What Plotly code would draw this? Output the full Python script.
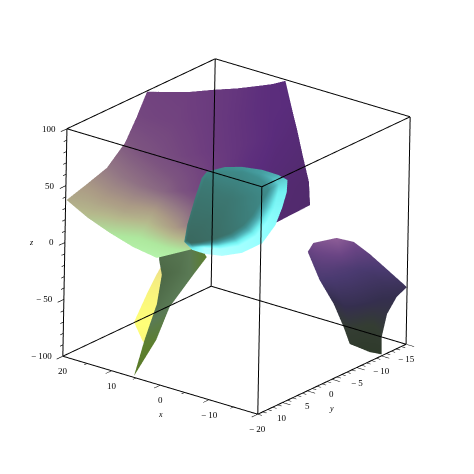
import plotly.graph_objects as go

# ---- axis ticks ----
x_major = [-20, -10, 0, 10, 20]
x_major_labels = ["− 20", "− 10", "0", "10", "20"]
x_minor = [-15, -5, 5, 15]
y_major = [-15, -10, -5, 0, 5, 10]
y_major_labels = ["− 15", "− 10", "− 5", "0", "5", "10"]
y_minor = [v for v in range(-15, 16) if v not in y_major]
z_major = [-100, -50, 0, 50, 100]
z_major_labels = ["− 100", "− 50", "0", "50", "100"]
z_minor = [v for v in range(-100, 101, 10) if v not in z_major]

# ---- large sheet ----
sheet_x = [[19.8, 17.5, 14.4, 12.0, 9.4, 7.4, 6.1, 5.3],
           [20.0, 17.6, 14.3, 11.5, 8.8, 6.4, 5.2, 4.35],
           [20.0, 17.3, 13.9, 10.7, 8.0, 5.6, 4.5, 3.0],
           [20.0, 16.8, 13.0, 9.7, 6.5, 4.0, 3.3, 1.7],
           [20.0, 16.6, 12.2, 7.6, 5.0, 2.3, 1.7, 0.4],
           [19.9, 15.4, 10.9, 6.1, 1.2, 1.5, -0.1, 0.1]]
sheet_y = [[-1.0, -2.4, -4.3, -6.7, -8.9, -11.2, -12.8, -14.7],
           [0.8, 0.1, -1.3, -3.6, -6.4, -9.7, -12.0, -15.0],
           [3.1, 3.2, 2.1, 0.1, -3.9, -8.5, -12.0, -15.0],
           [6.7, 6.9, 6.5, 5.4, 2.1, -4.5, -11.0, -15.0],
           [11.2, 10.9, 10.7, 10.5, 7.6, -0.5, -8.4, -15.0],
           [14.9, 15.0, 15.0, 15.0, 15.0, 4.9, -5.8, -15.0]]
sheet_z = [[100, 100, 100, 100, 100, 100, 100, 100],
           [81.4, 82.1, 81.7, 81.3, 80.9, 80.6, 80.1, 79.3],
           [63.3, 60.6, 60.1, 57.4, 58.0, 58.6, 59.0, 59.1],
           [48.7, 45.1, 42.3, 38.0, 37.0, 37.0, 36.2, 37.0],
           [42.0, 33.4, 29.0, 24.7, 16.8, 12.4, 17.1, 16.6],
           [37.3, 27.5, 20.1, 13.8, 10.4, -0.2, -4.3, -3.3]]
sheet_tone = [[.27, .26, .25, .22, .19, .15, .13, .12],
              [.29, .28, .27, .24, .20, .15, .13, .12],
              [.36, .35, .32, .28, .22, .16, .12, .10],
              [.45, .44, .42, .40, .30, .15, .10, .08],
              [.55, .56, .58, .65, .55, .20, .08, .06],
              [.60, .68, .78, .88, .95, .70, .08, .05]]

# ---- dark green spike ----
spike_x = [[6.1, 3.3, 1.0], [5.8, 2.8, -0.3], [4.9, 3.0, 0.8], [4.4, 3.6, 2.6], [4.6, 3.9, 3.1], [5.7, 5.7, 5.7]]
spike_y = [[9.6, 7.6, 6.4], [9.9, 8.1, 6.3], [10.2, 9.0, 7.9], [11.6, 11.2, 10.8], [13.8, 13.4, 12.9], [14.7, 14.7, 14.7]]
spike_z = [[-1.6, 3.3, 3.4], [-7.7, -5.9, -4.8], [-19.0, -16.6, -18.6], [-41.1, -41.8, -43.2], [-68.6, -68.5, -68.4], [-99.7, -99.7, -99.7]]
spike_tone = [[.25, .4, .7], [.25, .4, .75], [.15, .3, .55], [.3, .4, .5], [.7, .7, .7], [1, 1, 1]]

# ---- yellow piece ----
yellow_x = [[8.5, 8.2], [8.9, 7.8], [9.4, 7.5], [10.0, 7.4], [8.1, 7.7]]
yellow_y = [[6.4, 6.2], [7.2, 6.6], [8.7, 7.9], [10.6, 9.3], [10.6, 10.4]]
yellow_z = [[-21.0, -21.0], [-29.4, -30.1], [-44.8, -49.3], [-66.3, -68.3], [-81.2, -81.2]]
yellow_tone = [[0, 0], [.25, .3], [.65, .7], [1, 1], [.8, .8]]

# ---- teal bowl, rings from the middle out ----
bowl_mid = [-4.2, 6.0, 49.7]
bowl_c_x = [-2.7, -4.9, -7.2, -8.5, -9.0, -8.7, -8.3, -7.9, -7.1, -5.7, -3.8, -2.1, -0.9, -0.4, -0.3, -0.2, -0.3, -0.8]
bowl_c_y = [5.2, 4.0, 3.0, 2.6, 2.7, 3.2, 4.0, 4.8, 5.8, 7.0, 8.4, 9.6, 10.3, 10.5, 9.6, 8.2, 7.0, 6.5]
bowl_c_z = [71.0, 71.2, 66.9, 62.4, 57.9, 52.5, 46.4, 38.7, 31.0, 24.8, 20.0, 17.5, 16.7, 18.9, 30.3, 50.9, 65.4, 68.5]
bowl_b_x = [-2.6, -4.8, -7.4, -9.0, -10.2, -10.4, -10.5, -10.1, -9.2, -7.4, -5.1, -3.0, -1.4, -0.3, 0.0, 0.0, -0.2, -0.5]
bowl_b_y = [5.2, 3.9, 2.6, 2.0, 1.7, 2.1, 2.9, 3.9, 5.2, 6.8, 8.3, 9.4, 10.3, 10.6, 9.8, 8.2, 7.0, 6.5]
bowl_b_z = [72.5, 72.7, 69.9, 67.1, 62.6, 55.0, 44.3, 33.6, 22.8, 15.0, 12.5, 13.1, 13.7, 18.1, 30.3, 50.9, 66.2, 70.0]
bowl_o_x = [-2.5, -4.7, -7.4, -9.7, -11.1, -11.5, -11.5, -11.3, -10.3, -8.0, -5.5, -3.2, -1.4, -0.05, 0.2, 0.2, 0.1, -0.3]
bowl_o_y = [5.1, 3.8, 2.4, 1.4, 0.9, 1.4, 2.3, 3.4, 5.0, 6.8, 8.4, 9.6, 10.4, 10.7, 9.9, 8.4, 7.2, 6.6]
bowl_o_z = [74.8, 75.0, 73.0, 69.4, 65.7, 56.6, 44.4, 31.4, 17.6, 9.8, 7.2, 8.5, 11.4, 17.3, 30.3, 50.9, 66.1, 70.8]
bowl_mid_tone = .17
bowl_c_tone = [.30, .32, .35, .35, .33, .30, .28, .25, .22, .15, .08, .05, .03, .03, .08, .15, .22, .26]
bowl_b_tone = [.33, .36, .42, .52, .62, .72, .78, .85, .88, .92, .95, .95, .60, .10, .10, .18, .25, .28]
bowl_o_tone = [.35, .38, .42, .50, .62, .72, .78, .82, .87, .92, .97, 1.0, .80, .35, .15, .20, .27, .30]

# ---- patch at the right ----
patch_x = [[-5.7, -6.1, -8.9, -11.3, -13.85, -16.6, -19.95],
           [-8.3, -9.3, -11.1, -13.2, -15.2, -17.0, -19.0],
           [-11.1, -12.65, -13.8, -15.1, -16.2, -17.3, -18.4],
           [-13.3, -14.4, -15.4, -16.3, -17.1, -18.0, -18.6],
           [-14.7, -15.9, -16.9, -18.0, -18.8, -19.4, -19.65]]
patch_y = [[-8.9, -9.6, -11.5, -12.65, -13.4, -14.15, -15.0],
           [-8.8, -9.8, -11.1, -12.1, -13.0, -13.4, -13.9],
           [-9.0, -9.7, -10.5, -11.4, -12.0, -12.4, -12.6],
           [-8.9, -9.45, -10.1, -10.8, -11.2, -11.4, -11.4],
           [-8.8, -9.25, -9.7, -9.6, -10.0, -10.3, -10.4]]
patch_z = [[-24.5, -17.6, -13.5, -16.3, -25.2, -36.4, -49.8],
           [-45.6, -39.4, -36.2, -37.5, -41.1, -48.6, -57.5],
           [-63.7, -65.8, -63.4, -61.7, -61.6, -64.6, -70.6],
           [-81.0, -82.4, -80.8, -79.1, -79.1, -82.8, -88.0],
           [-93.8, -96.0, -98.2, -98.4, -99.1, -99.8, -99.8]]
patch_tone = [[.75, .88, 1.0, .85, .72, .60, .45],
              [.60, .65, .65, .60, .55, .48, .40],
              [.35, .40, .42, .42, .40, .36, .32],
              [.20, .20, .20, .20, .20, .20, .20],
              [.15, .08, .05, .05, .05, .05, .05]]

# ---- colour ramps ----
sheet_scale = [[0, "#4a2860"], [.12, "#5a2c7c"], [.25, "#6f3f7f"], [.35, "#7d5580"],
               [.45, "#957a85"], [.55, "#ab9b85"], [.65, "#b5b88c"], [.8, "#aee89e"], [1, "#b8f8b0"]]
spike_scale = [[0, "#46603f"], [.5, "#5a7a55"], [.75, "#5c7f2e"], [1, "#5a7a28"]]
yellow_scale = [[0, "#e8d68e"], [.4, "#f5ee80"], [1, "#ffff78"]]
bowl_scale = [[0, "#3a665c"], [.2, "#3c7a75"], [.35, "#3f8f8f"], [.5, "#4fb0b5"],
              [.7, "#70f0f0"], [.85, "#90ffff"], [1, "#b8ffff"]]
patch_scale = [[0, "#2d3a28"], [.2, "#343d33"], [.4, "#352f4f"], [.6, "#4a3a70"],
               [.8, "#6b4585"], [1, "#8f5f98"]]


def closed(ring):
    return list(ring) + [ring[0]]


n = len(bowl_c_x) + 1
bowl_x = [[bowl_mid[0]] * n, closed(bowl_c_x), closed(bowl_b_x), closed(bowl_o_x)]
bowl_y = [[bowl_mid[1]] * n, closed(bowl_c_y), closed(bowl_b_y), closed(bowl_o_y)]
bowl_z = [[bowl_mid[2]] * n, closed(bowl_c_z), closed(bowl_b_z), closed(bowl_o_z)]
bowl_tone = [[bowl_mid_tone] * n, closed(bowl_c_tone), closed(bowl_b_tone), closed(bowl_o_tone)]

flat = dict(ambient=1, diffuse=0, specular=0, fresnel=0, roughness=1)


def surf(x, y, z, tone, scale):
    return go.Surface(x=x, y=y, z=z, surfacecolor=tone, colorscale=scale, cmin=0, cmax=1,
                      showscale=False, lighting=flat, hoverinfo="skip", scene="scene")


x0, x1 = -20, 20
y0, y1 = -15, 15
z0, z1 = -100, 100
box_x, box_y, box_z = [], [], []
for a, b in [((x0, y0, z0), (x1, y0, z0)), ((x0, y1, z0), (x1, y1, z0)),
             ((x0, y0, z1), (x1, y0, z1)), ((x0, y1, z1), (x1, y1, z1)),
             ((x0, y0, z0), (x0, y1, z0)), ((x1, y0, z0), (x1, y1, z0)),
             ((x0, y0, z1), (x0, y1, z1)), ((x1, y0, z1), (x1, y1, z1)),
             ((x0, y0, z0), (x0, y0, z1)), ((x1, y0, z0), (x1, y0, z1)),
             ((x0, y1, z0), (x0, y1, z1)), ((x1, y1, z0), (x1, y1, z1))]:
    box_x += [a[0], b[0], None]
    box_y += [a[1], b[1], None]
    box_z += [a[2], b[2], None]

fig = go.Figure([
    surf(sheet_x, sheet_y, sheet_z, sheet_tone, sheet_scale),
    surf(yellow_x, yellow_y, yellow_z, yellow_tone, yellow_scale),
    surf(spike_x, spike_y, spike_z, spike_tone, spike_scale),
    surf(bowl_x, bowl_y, bowl_z, bowl_tone, bowl_scale),
    surf(patch_x, patch_y, patch_z, patch_tone, patch_scale),
    # box and major ticks in a second scene on top, minor ticks in a third
    go.Scatter3d(x=box_x, y=box_y, z=box_z, mode="lines", line=dict(color="black", width=2),
                 hoverinfo="skip", scene="scene2", showlegend=False),
    go.Scatter3d(x=[x0, x1], y=[y0, y1], z=[z0, z1], mode="markers", marker=dict(size=1, opacity=0),
                 hoverinfo="skip", scene="scene3", showlegend=False),
])


def axis(rng, ticks, length):
    return dict(title=dict(text=""), range=rng, autorange=False, tickmode="array", tickvals=ticks,
                ticktext=["" for _ in ticks], showticklabels=False, ticks="outside", ticklen=length,
                tickwidth=1.5, tickcolor="black", showline=False, showgrid=False, zeroline=False,
                showbackground=False, showspikes=False)


def hidden(rng):
    return dict(range=rng, autorange=False, visible=False)


tick_font = dict(family="Liberation Serif", size=9, color="black")
title_font = dict(family="Liberation Serif", size=8, color="black")


def note(x, y, z, text, font, xshift=0, yshift=0, xanchor="center"):
    return dict(x=x, y=y, z=z, text=text, font=font, showarrow=False,
                xshift=xshift, yshift=yshift, xanchor=xanchor, yanchor="middle")


notes = [note(v, y1, z0, t, tick_font, yshift=-15) for v, t in zip(x_major, x_major_labels)]
notes += [note(x0, v, z0, t, tick_font, yshift=-15) for v, t in zip(y_major, y_major_labels)]
notes += [note(x1, y1, v, t, tick_font, xshift=-9, xanchor="right") for v, t in zip(z_major, z_major_labels)]
notes += [note(0, y1, z0, "<i>x</i>", title_font, yshift=-29),
          note(x0, 0, z0, "<i>y</i>", title_font, yshift=-29),
          note(x1, y1, 0, "<i>z</i>", title_font, xshift=-33)]

camera = dict(eye=dict(x=-1.04, y=1.386, z=0.692),
              up=dict(x=0.237, y=-0.286, z=0.928),
              center=dict(x=0, y=0, z=0),
              projection=dict(type="orthographic"))
domain = dict(x=[0, 1], y=[0, 1])
cube = dict(x=1.072, y=1.072, z=1.072)
base = dict(domain=domain, camera=camera, aspectmode="manual", aspectratio=cube)

fig.update_layout(
    width=457, height=457, margin=dict(l=0, r=0, t=0, b=0),
    paper_bgcolor="white", showlegend=False,
    scene=dict(**base, xaxis=hidden([x0, x1]), yaxis=hidden([y0, y1]), zaxis=hidden([z0, z1])),
    scene2=dict(**base, xaxis=axis([x0, x1], x_major, 10), yaxis=axis([y0, y1], y_major, 10),
                zaxis=axis([z0, z1], z_major, 14), annotations=notes),
    scene3=dict(**base, xaxis=axis([x0, x1], x_minor, 5), yaxis=axis([y0, y1], y_minor, 5),
                zaxis=axis([z0, z1], z_minor, 7)),
)
fig.write_html("out.html")
